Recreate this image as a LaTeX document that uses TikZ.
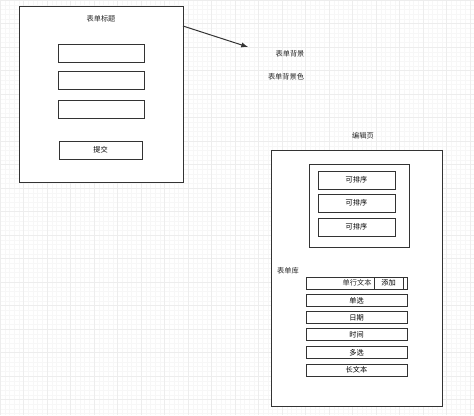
\documentclass[tikz,border=0pt]{standalone}
\usepackage{fontspec}
\setmainfont{Noto Sans CJK SC}
\begin{document}
\begin{tikzpicture}[x=0.75pt, y=-0.75pt, line width=0.75pt,
    frame/.style={draw=black!80, minimum width=#1, inner sep=0pt},
    field/.style={draw=black!80, fill=white, minimum width=86*0.75pt, minimum height=18*0.75pt, inner sep=0pt},
    item/.style={draw=black!80, fill=white, minimum width=101*0.75pt, minimum height=12*0.75pt, inner sep=0pt, font=\fontsize{5.4}{6}\selectfont},
    sortitem/.style={draw=black!80, fill=white, minimum width=77*0.75pt, minimum height=18*0.75pt, inner sep=0pt, font=\fontsize{5.4}{6}\selectfont},
    lbl/.style={inner sep=0pt, text=black!85, font=\fontsize{5.4}{6}\selectfont}]
    \useasboundingbox (0,0) rectangle (474,415);
    % grid
    \foreach \g in {0,4.7,...,474} \draw[black!3, line width=0.3pt] (\g,0) -- (\g,415);
    \foreach \g in {0,4.7,...,415} \draw[black!3, line width=0.3pt] (0,\g) -- (474,\g);
    \foreach \g in {0,23.5,...,474} \draw[black!7, line width=0.4pt] (\g,0) -- (\g,415);
    \foreach \g in {0,23.5,...,415} \draw[black!7, line width=0.4pt] (0,\g) -- (474,\g);

    % form page
    \node[frame=164*0.75pt, minimum height=176*0.75pt, fill=white] (form) at (101,94) {};
    \node[lbl] (title) at (101,19) {表单标题};
    \node[field] (f1) at (101,53) {};
    \node[field] (f2) at (101,80) {};
    \node[field] (f3) at (101,109) {};
    \node[field, minimum width=83*0.75pt, font=\fontsize{5.4}{6}\selectfont] (submit) at (100.5,150) {提交};

    \node[lbl] (bg) at (290,54) {表单背景};
    \node[lbl] (bgcolor) at (286,77) {表单背景色};
    \coordinate (tail) at (183,26);
    \coordinate (tip) at (248,47);
    \draw[-latex, black!80] (tail) -- (tip);

    % edit page
    \node[lbl] (edit) at (363,136) {编辑页};
    \node[frame=171*0.75pt, minimum height=256*0.75pt, fill=white] (page) at (356.5,278) {};
    \node[frame=100*0.75pt, minimum height=83*0.75pt] (sortbox) at (359,205.5) {};
    \node[sortitem] (s1) at (356.5,180) {可排序};
    \node[sortitem] (s2) at (356.5,203) {可排序};
    \node[sortitem] (s3) at (356.5,227) {可排序};

    \node[lbl] (lib) at (288,271) {表单库};
    \node[item] (text) at (356.5,283) {};
    \node[lbl, anchor=east] (textlbl) at (372,283) {单行文本};
    \node[item, minimum width=29*0.75pt] (add) at (388.5,283) {添加};
    \node[item] (radio) at (356.5,300.5) {单选};
    \node[item] (date) at (356.5,317.5) {日期};
    \node[item] (time) at (356.5,334.5) {时间};
    \node[item] (check) at (356.5,352.5) {多选};
    \node[item] (long) at (356.5,370) {长文本};
\end{tikzpicture}
\end{document}
